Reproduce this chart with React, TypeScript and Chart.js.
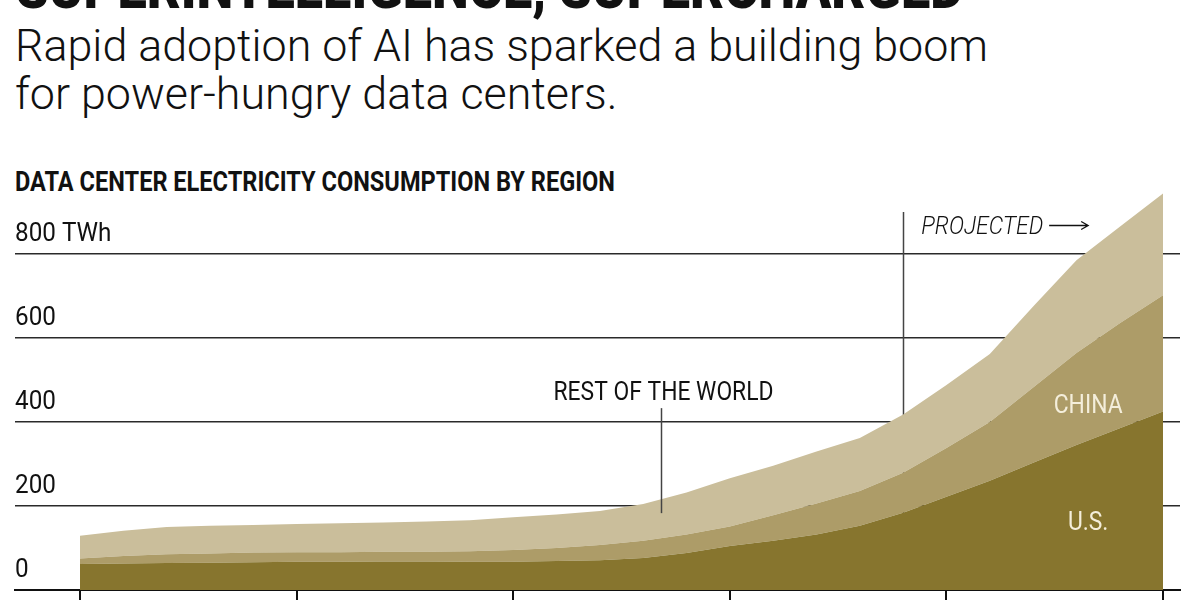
import React, { useEffect, useLayoutEffect, useRef } from "react";
import { Chart, registerables } from "chart.js";

Chart.register(...registerables);

// ---- data (TWh) ----
const years = [
  2005, 2006, 2007, 2008, 2009, 2010, 2011, 2012, 2013, 2014, 2015, 2016, 2017,
  2018, 2019, 2020, 2021, 2022, 2023, 2024, 2025, 2026, 2027, 2028, 2029, 2030,
];
const usValues = [
  62, 63, 64, 65, 66, 67, 67, 68, 68, 67, 67, 69, 71, 76, 88, 105, 117, 132,
  153, 184, 222, 260, 303, 345, 385, 425,
];
const chinaValues = [
  13, 18, 21, 22, 23, 23, 23, 23, 23, 25, 28, 31, 36, 41, 44, 46, 61, 74, 83,
  95, 116, 140, 179, 219, 250, 277,
];
const restValues = [
  54, 60, 65, 66, 66, 67, 69, 70, 72, 74, 78, 80, 81, 88, 100, 115, 118, 124,
  126, 139, 150, 162, 193, 221, 230, 242,
];
const seriesNames = ["U.S.", "China", "Rest of the world"];
const seriesColors = ["#87752e", "#ad9c68", "#cabe9b"];
const yTicks = [0, 200, 400, 600, 800];
const yUnit = "TWh";
const xTicks = [2005, 2010, 2015, 2020, 2025, 2030];
const projectedYear = 2024;

const FONT = 'Roboto, "Noto Sans", "DejaVu Sans", sans-serif';

function drawCompressed(
  ctx: CanvasRenderingContext2D,
  text: string,
  x: number,
  y: number,
  sx: number,
  align: "left" | "center"
) {
  const w = ctx.measureText(text).width * sx;
  const left = align === "center" ? x - w / 2 : x;
  ctx.save();
  ctx.translate(left, y);
  ctx.scale(sx, 1);
  ctx.textAlign = "left";
  ctx.textBaseline = "alphabetic";
  ctx.fillText(text, 0, 0);
  ctx.restore();
}

const annotationPlugin = {
  id: "annotations",
  beforeDatasetsDraw(chart: any) {
    const { ctx, scales, chartArea } = chart;
    const x = Math.round(scales.x.getPixelForValue(projectedYear)) + 0.5;
    ctx.save();
    ctx.strokeStyle = "#444";
    ctx.lineWidth = 1.5;
    ctx.beginPath();
    ctx.moveTo(x, 212);
    ctx.lineTo(x, chartArea.bottom);
    ctx.stroke();
    ctx.restore();
  },
  afterDatasetsDraw(chart: any) {
    const { ctx, scales } = chart;
    const xs = scales.x;
    const ys = scales.y;
    ctx.save();

    // y tick labels, above their grid lines
    ctx.fillStyle = "#111";
    ctx.font = `400 25px ${FONT}`;
    ys.ticks.forEach((t: any) => {
      const label = t.value === yTicks[yTicks.length - 1] ? `${t.value} ${yUnit}` : `${t.value}`;
      drawCompressed(ctx, label, 15, ys.getPixelForValue(t.value) - 13, 0.97, "left");
    });

    // label font, compressed to match the condensed face
    ctx.font = `400 26px ${FONT}`;
    const sx = 220 / ctx.measureText("REST OF THE WORLD").width;

    // Rest of the world label + leader
    const lx = Math.round(xs.getPixelForValue(2018.42)) + 0.5;
    ctx.strokeStyle = "#444";
    ctx.lineWidth = 1.5;
    ctx.beginPath();
    ctx.moveTo(lx, ys.getPixelForValue(433));
    ctx.lineTo(lx, ys.getPixelForValue(183));
    ctx.stroke();
    drawCompressed(ctx, "REST OF THE WORLD", lx + 2, ys.getPixelForValue(452), sx, "center");

    // Projected
    const px = xs.getPixelForValue(projectedYear);
    ctx.font = `italic 300 26px ${FONT}`;
    drawCompressed(ctx, "PROJECTED", px + 18, 234, sx, "left");
    const ay = 225.5;
    ctx.beginPath();
    ctx.lineWidth = 1.3;
    ctx.strokeStyle = "#111";
    ctx.moveTo(px + 146, ay);
    ctx.lineTo(px + 185, ay);
    ctx.moveTo(px + 178, ay - 4);
    ctx.lineTo(px + 185, ay);
    ctx.lineTo(px + 178, ay + 4);
    ctx.stroke();

    // Region labels inside areas
    const cx = xs.getPixelForValue(2028.27);
    ctx.fillStyle = "#f4eedb";
    ctx.font = `400 26px ${FONT}`;
    drawCompressed(ctx, "CHINA", cx, ys.getPixelForValue(421), sx, "center");
    drawCompressed(ctx, "U.S.", cx, ys.getPixelForValue(143), sx, "center");
    ctx.restore();
  },
};

function FitText(props: { target: number; style: any; children: any }) {
  const ref = useRef<HTMLDivElement | null>(null);
  useLayoutEffect(() => {
    const el = ref.current;
    if (!el) return;
    el.style.transform = "none";
    const w = el.getBoundingClientRect().width;
    if (w > 0) el.style.transform = `scaleX(${props.target / w})`;
  });
  return (
    <div
      ref={ref}
      style={{
        position: "absolute",
        whiteSpace: "nowrap",
        transformOrigin: "0 0",
        display: "inline-block",
        ...props.style,
      }}
    >
      {props.children}
    </div>
  );
}

export default function App() {
  const canvasRef = useRef<HTMLCanvasElement | null>(null);

  useEffect(() => {
    document.body.style.margin = "0";
    const canvas = canvasRef.current;
    if (!canvas) return;
    const datasets = [usValues, chinaValues, restValues].map((vals, i) => ({
      label: seriesNames[i],
      data: years.map((yr, j) => ({ x: yr, y: vals[j] })),
      backgroundColor: seriesColors[i],
      borderWidth: 0,
      pointRadius: 0,
      tension: 0,
      fill: i === 0 ? "origin" : "-1",
    }));
    const chart = new Chart(canvas, {
      type: "line",
      data: { datasets },
      options: {
        responsive: false,
        animation: false,
        layout: { padding: { left: 15, right: 20, top: 170, bottom: 0 } },
        plugins: {
          legend: { display: false },
          tooltip: { enabled: false },
          title: { display: false },
        },
        scales: {
          x: {
            type: "linear",
            min: 2003.5,
            max: 2030.39,
            afterBuildTicks: (scale: any) => {
              scale.ticks = xTicks.map((v) => ({ value: v }));
            },
            grid: {
              display: true,
              drawOnChartArea: false,
              drawTicks: true,
              tickLength: 10,
              color: "#111",
              lineWidth: 2,
            },
            border: { display: true, color: "#111", width: 2 },
            ticks: { display: false },
          },
          y: {
            type: "linear",
            stacked: true,
            min: 0,
            max: 1000,
            afterBuildTicks: (scale: any) => {
              scale.ticks = yTicks.map((v) => ({ value: v }));
            },
            grid: { color: "#2a2a2a", lineWidth: 1.4, drawTicks: false },
            border: { display: false },
            ticks: { display: false },
          },
        },
      },
      plugins: [annotationPlugin],
    });
    return () => chart.destroy();
  }, []);

  return (
    <div
      style={{
        position: "fixed",
        left: 0,
        top: 0,
        width: 1200,
        height: 600,
        overflow: "hidden",
        background: "#fff",
        fontFamily: FONT,
        color: "#111",
      }}
    >
      <FitText
        target={948}
        style={{ left: 16, top: -42, fontSize: 60, lineHeight: "60px", fontWeight: 900 }}
      >
        SUPERINTELLIGENCE, SUPERCHARGED
      </FitText>
      <FitText
        target={973}
        style={{ left: 15, top: 22, fontSize: 44, lineHeight: "48px", fontWeight: 300 }}
      >
        Rapid adoption of AI has sparked a building boom
        <br />
        for power-hungry data centers.
      </FitText>
      <FitText
        target={600}
        style={{ left: 15, top: 168, fontSize: 27, lineHeight: "28px", fontWeight: 700 }}
      >
        DATA CENTER ELECTRICITY CONSUMPTION BY REGION
      </FitText>
      <canvas
        ref={canvasRef}
        width={1200}
        height={600}
        style={{ position: "absolute", left: 0, top: 0, width: 1200, height: 600 }}
      />
    </div>
  );
}
